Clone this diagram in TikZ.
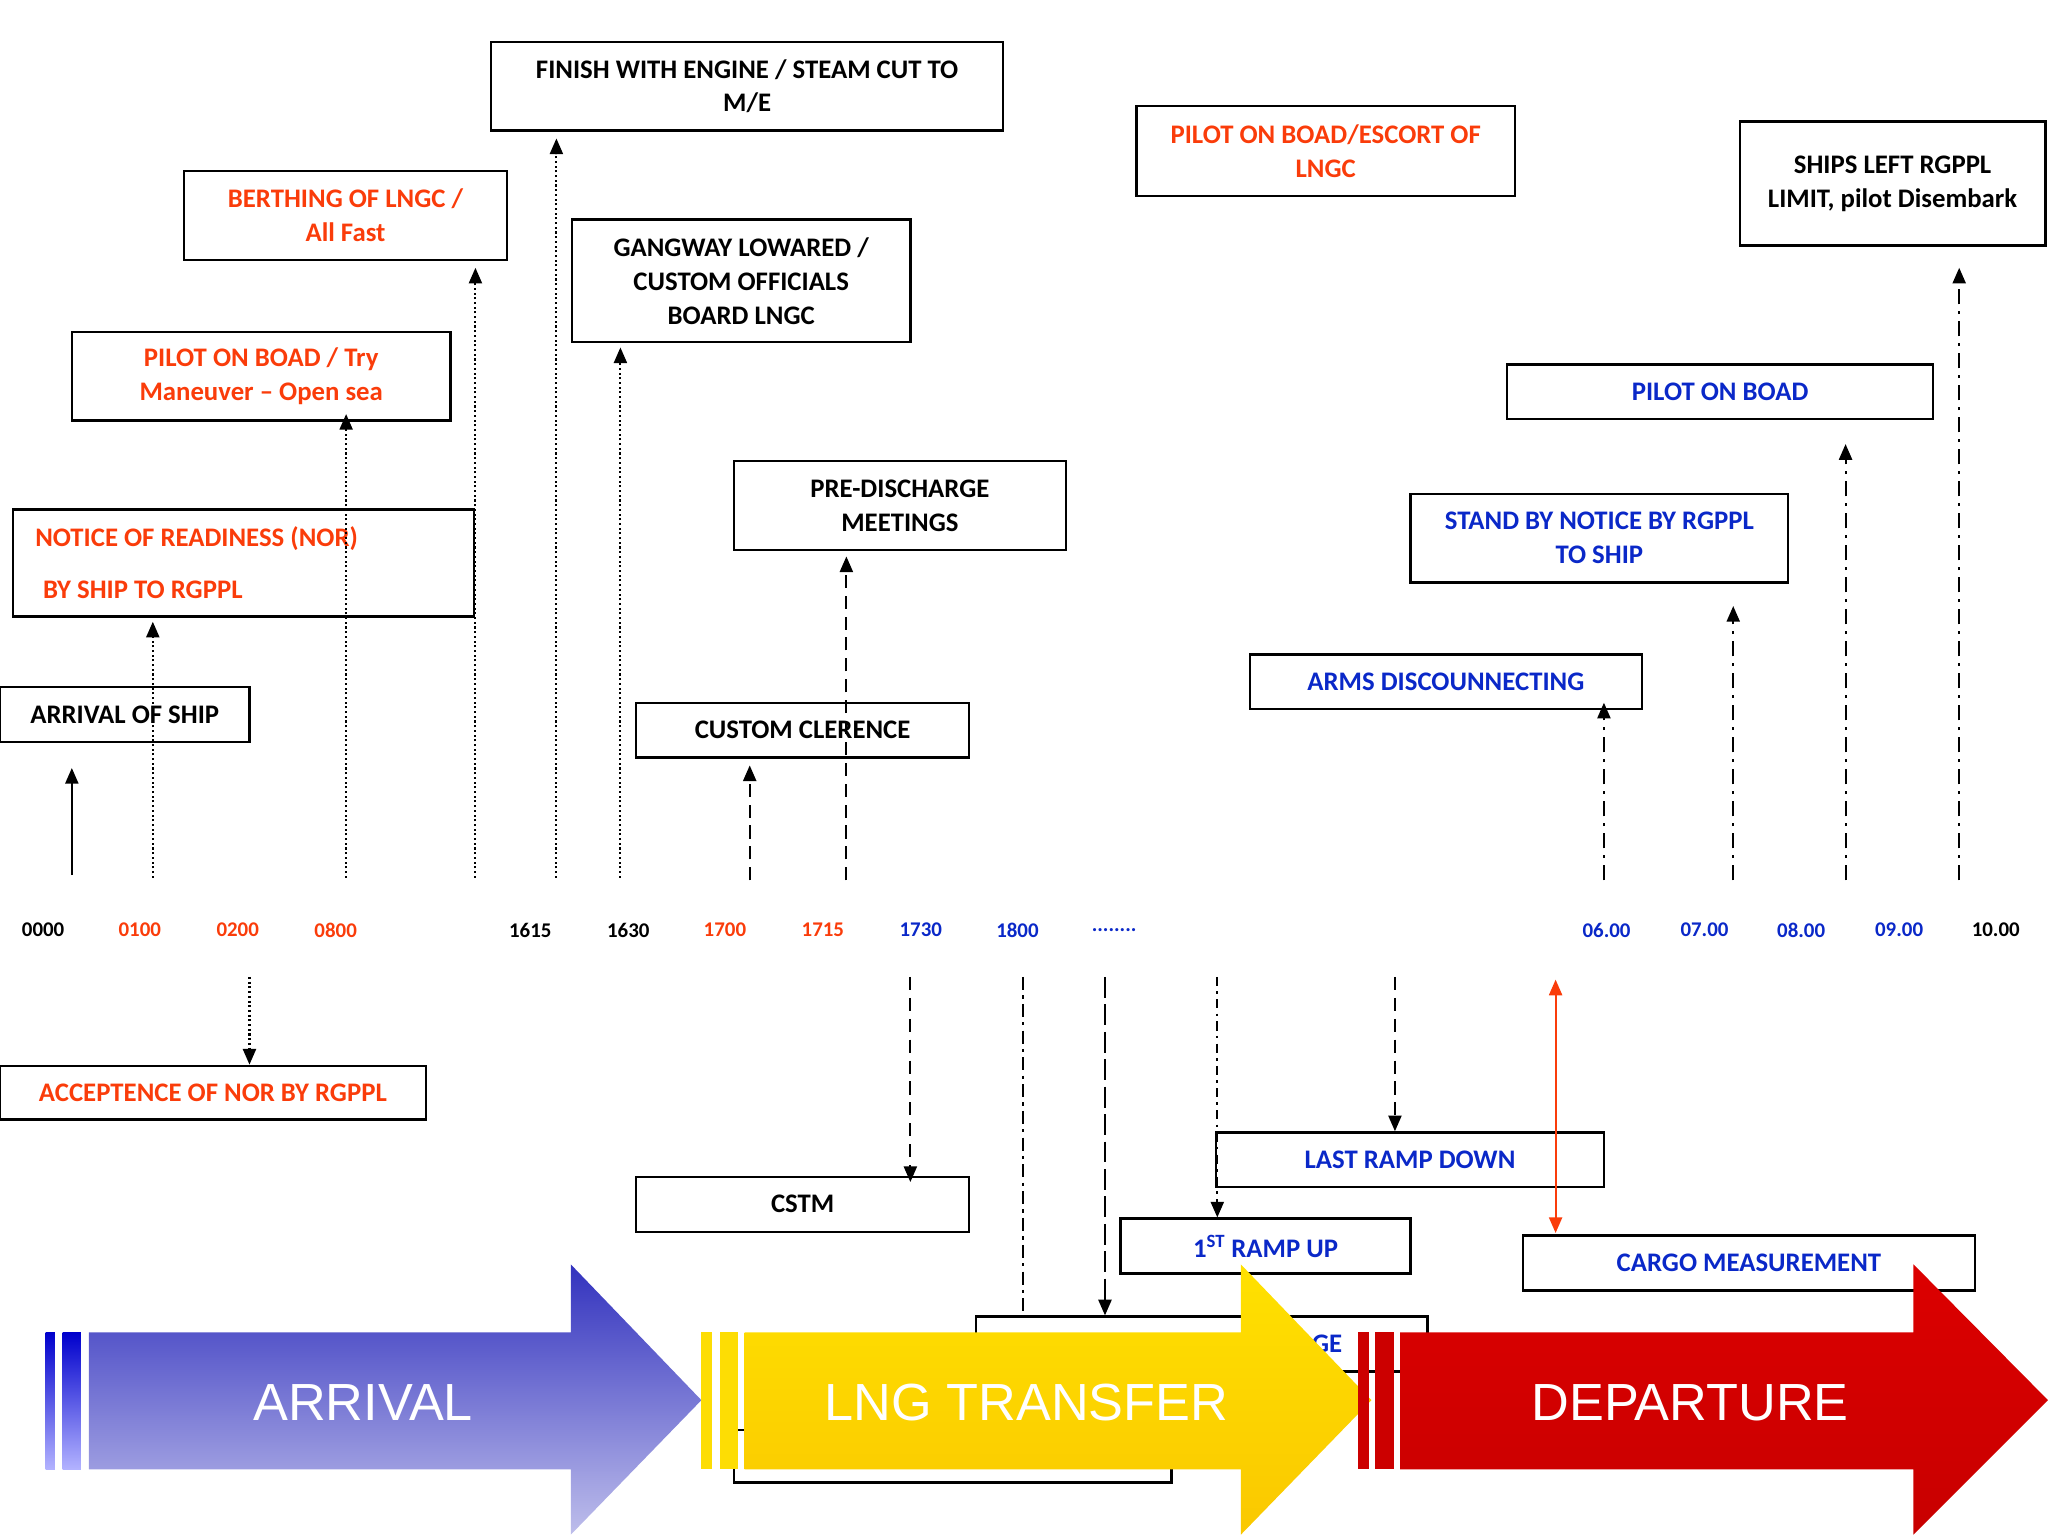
\documentclass[tikz,border=0pt]{standalone}
\usepackage{fontspec}
\setmainfont{Carlito}
\newfontfamily\arialf{Liberation Sans}
\usetikzlibrary{arrows.meta}
\definecolor{tred}{RGB}{250,60,10}
\definecolor{tblue}{RGB}{10,40,200}
\begin{document}
\begin{tikzpicture}[x=1pt,y=-1pt,
  bx/.style={draw,line width=1.8pt,align=center,font=\bfseries\fontsize{20.5}{26}\selectfont,inner sep=0pt},
  tl/.style={font=\bfseries\fontsize{16}{18}\selectfont},
  ar/.style={-{Triangle[length=12pt,width=10pt]},line width=1.6pt},
  dotl/.style={ar,dash pattern=on 1.6pt off 2pt},
  dsh/.style={ar,dash pattern=on 10pt off 6pt},
  dd/.style={ar,dash pattern=on 12pt off 5pt on 2.5pt off 5pt},
  bigtxt/.style={text=white,font=\arialf\fontsize{40}{40}\selectfont}]
\useasboundingbox (0,0) rectangle (1568,1176);
\newcommand\bxat[5]{\node[bx,minimum width=#3-#1,minimum height=#4-#2,#5] at ({(#1+#3)/2},{(#2+#4)/2})}
% top boxes
\bxat{376}{32}{768}{100}{}(fin){FINISH WITH ENGINE / STEAM CUT TO\\M/E};
\bxat{141}{131}{388}{199}{text=tred}(berth){BERTHING OF LNGC /\\All Fast};
\bxat{438}{168}{697}{262}{}(gang){GANGWAY LOWARED /\\CUSTOM OFFICIALS\\BOARD LNGC};
\bxat{55}{254}{345}{322}{text=tred}(ptry){PILOT ON BOAD / Try\\Maneuver -- Open sea};
\bxat{562}{353}{816}{421}{}(pre){PRE-DISCHARGE\\MEETINGS};
\bxat{10}{390}{363}{472}{text=tred,align=left,font=\bfseries\fontsize{20.5}{40}\selectfont}(nor){NOTICE OF READINESS (NOR)\hspace*{72pt}\\\hspace*{6pt}BY SHIP TO RGPPL};
\bxat{0}{526}{191}{568}{}(arr){ARRIVAL OF SHIP};
\bxat{487}{538}{742}{580}{}(cc){CUSTOM CLERENCE};
\bxat{870}{81}{1160}{150}{text=tred}(pesc){PILOT ON BOAD/ESCORT OF\\LNGC};
\bxat{1332}{93}{1566}{188}{}(left){SHIPS LEFT RGPPL\\LIMIT, pilot Disembark};
\bxat{1154}{279}{1480}{321}{text=tblue}(pob){PILOT ON BOAD};
\bxat{1080}{378}{1369}{446}{text=tblue}(sb){STAND BY NOTICE BY RGPPL\\TO SHIP};
\bxat{957}{501}{1257}{543}{text=tblue}(armd){ARMS DISCOUNNECTING};
% bottom boxes
\bxat{0}{816}{326}{857}{text=tred}(acc){ACCEPTENCE OF NOR BY RGPPL};
\bxat{487}{901}{742}{943}{}(cstm){CSTM};
\bxat{931}{867}{1228}{909}{text=tblue}(lrd){LAST RAMP DOWN};
\bxat{858}{933}{1080}{975}{text=tblue}(rup){1\textsuperscript{ST} RAMP UP};
\bxat{1166}{946}{1512}{988}{text=tblue}(cm){CARGO MEASUREMENT};
\bxat{747}{1008}{1093}{1050}{text=tblue}(hid1){\hspace*{60pt}START DISCHARGE};
\bxat{562}{1095}{897}{1135}{text=tblue}(hid2){ARMS CONNECTED};
% timeline
\foreach \x/\t/\c in {33/0000/black,107/0100/tred,182/0200/tred,257/0800/tred,406/1615/black,481/1630/black,555/1700/tred,630/1715/tred,705/1730/tblue,779/1800/tblue,853/{........}/tblue,1230/06.00/tblue,1305/07.00/tblue,1379/08.00/tblue,1454/09.00/tblue,1528/10.00/black}
  \node[tl,text=\c] (t\x) at (\x,712) {\t};
% up arrows
\coordinate (a1) at (55,670); \coordinate (b1) at (55,588); \draw[ar] (a1)--(b1);
\coordinate (a2) at (117,672); \draw[dotl] (a2)--(117,476);
\coordinate (a3) at (265,672); \draw[dotl] (a3)--(265,317);
\coordinate (a4) at (364,672); \draw[dotl] (a4)--(364,205);
\coordinate (a5) at (426,672); \draw[dotl] (a5)--(426,106);
\coordinate (a6) at (475,672); \draw[dotl] (a6)--(475,266);
\coordinate (a7) at (574,674); \draw[dsh] (a7)--(574,586);
\coordinate (a8) at (648,674); \draw[dsh] (a8)--(648,426);
\coordinate (a9) at (1228,674); \draw[dd] (a9)--(1228,538);
\coordinate (a10) at (1327,674); \draw[dd] (a10)--(1327,464);
\coordinate (a11) at (1413,674); \draw[dd] (a11)--(1413,340);
\coordinate (a12) at (1500,674); \draw[dd] (a12)--(1500,205);
% down arrows
\coordinate (d1) at (191,748); \draw[dotl] (d1)--(acc.north -| d1);
\coordinate (d2) at (697,748); \draw[dsh] (d2)--(697,905);
\coordinate (d3) at (783,748); \draw[line width=1.6pt,dash pattern=on 10pt off 4pt on 2.5pt off 4pt] (d3)--(hid1.north -| d3);
\coordinate (d4) at (846,748); \draw[ar,dash pattern=on 16pt off 5pt] (d4)--(hid1.north -| d4);
\coordinate (d5) at (932,748); \draw[ar,dash pattern=on 7pt off 4pt on 2pt off 4pt] (d5)--(rup.north -| d5);
\coordinate (d6) at (1068,748); \draw[dsh] (d6)--(lrd.north -| d6);
\coordinate (d7) at (1191,750); \coordinate (d8) at (1191,944);
\draw[{Triangle[length=12pt,width=10pt]}-{Triangle[length=12pt,width=10pt]},line width=1.6pt,tred] (d7)--(d8);
% big arrows
\shade[top color=blue!80!black,bottom color=blue!30!white] (35,1020) rectangle (42,1125);
\shade[top color=blue!80!black,bottom color=blue!30!white] (48,1020) rectangle (62,1125);
\shade[top color={rgb,255:red,50;green,50;blue,190},bottom color={rgb,255:red,190;green,190;blue,235}]
  (68,1020) -- (437,1020) -- (437,968) -- (537,1072) -- (437,1175) -- (437,1125) -- (68,1125) -- cycle;
\node[bigtxt] (arrival) at (278,1074) {ARRIVAL};
\fill[yellow!80!orange] (537,1020) rectangle (545,1125);
\fill[yellow!80!orange] (551,1020) rectangle (565,1125);
\shade[top color={rgb,255:red,255;green,225;blue,0},bottom color={rgb,255:red,250;green,200;blue,0}]
  (570,1020) -- (950,1020) -- (950,968) -- (1050,1072) -- (950,1175) -- (950,1125) -- (570,1125) -- cycle;
\node[bigtxt] (lng) at (786,1074) {LNG TRANSFER};
\fill[red!80!black] (1040,1020) rectangle (1048,1125);
\fill[red!80!black] (1053,1020) rectangle (1067,1125);
\shade[top color={rgb,255:red,220;green,0;blue,0},bottom color={rgb,255:red,200;green,0;blue,0}]
  (1072,1020) -- (1465,1020) -- (1465,968) -- (1568,1072) -- (1465,1175) -- (1465,1125) -- (1072,1125) -- cycle;
\node[bigtxt] (dep) at (1294,1074) {DEPARTURE};
\end{tikzpicture}
\end{document}
